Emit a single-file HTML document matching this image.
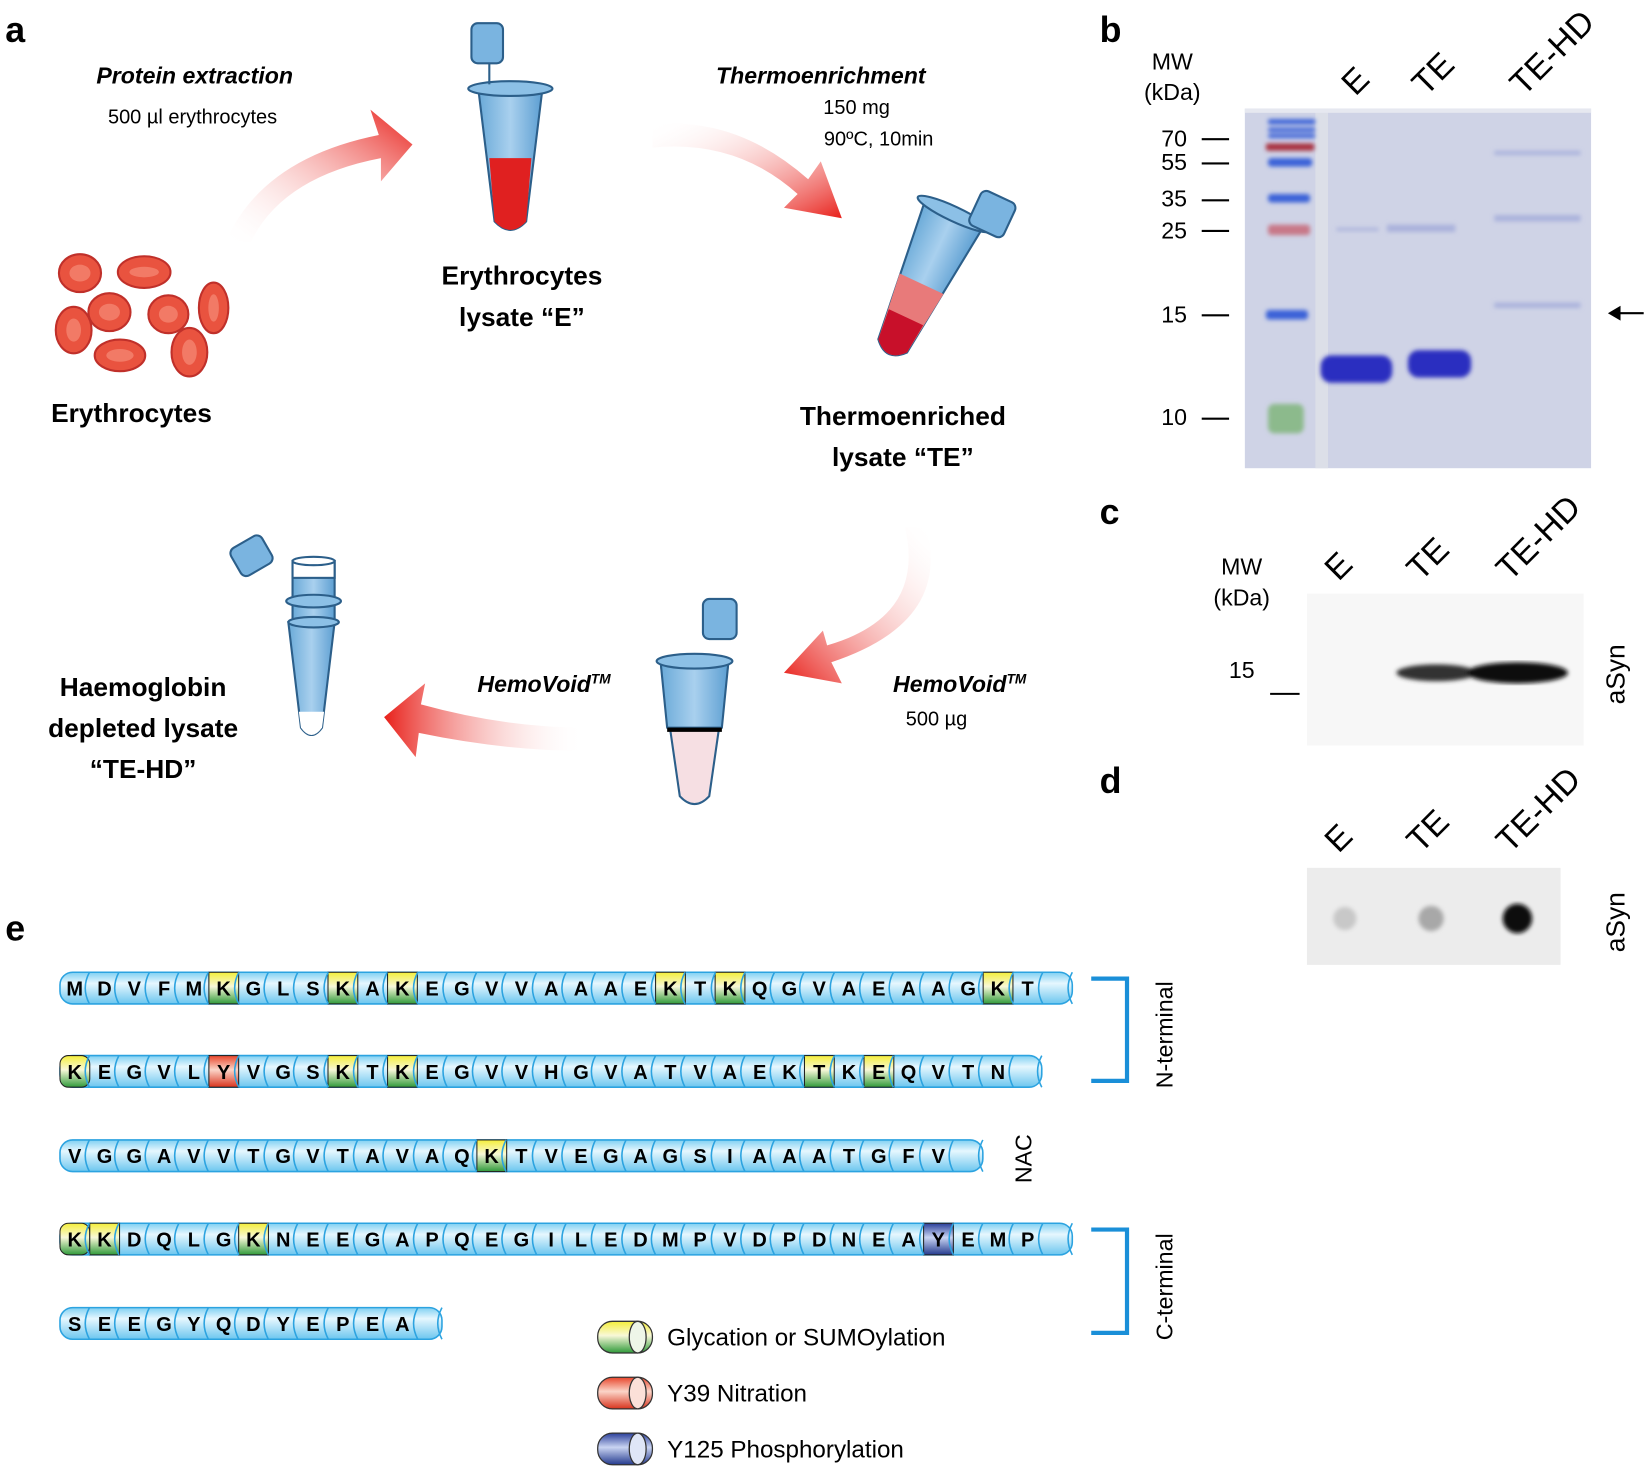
<!DOCTYPE html>
<html><head><meta charset="utf-8"><style>
html,body{margin:0;padding:0;background:#fff}
svg{display:block}
text{font-family:"Liberation Sans",sans-serif}
</style></head><body>
<svg width="1650" height="1470" viewBox="0 0 1568 1394" preserveAspectRatio="none" xmlns="http://www.w3.org/2000/svg">
<defs>
<linearGradient id="tube" x1="0" y1="0" x2="0" y2="1"><stop offset="0" stop-color="#7fd0f2"/><stop offset="0.35" stop-color="#e6f7fe"/><stop offset="1" stop-color="#6cc6ef"/></linearGradient>
<linearGradient id="yg" x1="0" y1="0" x2="0" y2="1"><stop offset="0" stop-color="#f4ee3a"/><stop offset="0.45" stop-color="#f8f8d8"/><stop offset="1" stop-color="#2f9a3a"/></linearGradient>
<linearGradient id="rd" x1="0" y1="0" x2="0" y2="1"><stop offset="0" stop-color="#e8452b"/><stop offset="0.45" stop-color="#fbd5c8"/><stop offset="1" stop-color="#d8341e"/></linearGradient>
<linearGradient id="bl" x1="0" y1="0" x2="0" y2="1"><stop offset="0" stop-color="#2a3f9a"/><stop offset="0.45" stop-color="#c9d4f2"/><stop offset="1" stop-color="#243a8e"/></linearGradient>
<linearGradient id="a1" x1="0" y1="1" x2="1" y2="0"><stop offset="0" stop-color="#fff" stop-opacity="0"/><stop offset="1" stop-color="#e8201a"/></linearGradient>
<linearGradient id="a2" x1="0" y1="0" x2="1" y2="1"><stop offset="0" stop-color="#fff" stop-opacity="0"/><stop offset="1" stop-color="#e8201a"/></linearGradient>
<linearGradient id="a3" x1="1" y1="0" x2="0" y2="1"><stop offset="0" stop-color="#fff" stop-opacity="0"/><stop offset="1" stop-color="#e8201a"/></linearGradient>
<linearGradient id="a4" x1="1" y1="0" x2="0" y2="0"><stop offset="0" stop-color="#fff" stop-opacity="0"/><stop offset="1" stop-color="#e8201a"/></linearGradient>
<linearGradient id="tb" x1="0" y1="0" x2="1" y2="0"><stop offset="0" stop-color="#6aaad8"/><stop offset="0.5" stop-color="#a9d0ee"/><stop offset="1" stop-color="#5d9fd2"/></linearGradient>
<filter id="bl2"><feGaussianBlur stdDeviation="2"/></filter>
</defs>

<g font-weight="bold" font-size="34">
<text x="5" y="40">a</text><text x="1045" y="40">b</text><text x="1045" y="497">c</text><text x="1045" y="752">d</text><text x="5" y="892">e</text>
</g>

<path d="M215 228 Q250 150 360 128 L352 104 L392 137 L362 172 L362 150 Q268 168 238 230 Z" fill="url(#a1)"/>
<path d="M620 118 Q700 110 768 170 L780 153 L800 207 L745 197 L758 184 Q700 132 620 140 Z" fill="url(#a2)"/>
<path d="M880 500 Q905 590 790 628 L800 648 L745 638 L782 598 L786 612 Q880 585 860 500 Z" fill="url(#a3)"/>
<path d="M555 690 Q480 690 400 668 L404 648 L365 680 L395 718 L398 695 Q480 712 555 712 Z" fill="url(#a4)"/>

<g fill="#e9533f" stroke="#c0302a" stroke-width="2">
<ellipse cx="76" cy="259" rx="20" ry="18"/><ellipse cx="137" cy="258" rx="25" ry="15"/><ellipse cx="104" cy="296" rx="20" ry="18"/><ellipse cx="160" cy="298" rx="19" ry="18"/><ellipse cx="203" cy="292" rx="14" ry="24"/><ellipse cx="70" cy="313" rx="17" ry="22"/><ellipse cx="114" cy="337" rx="24" ry="15"/><ellipse cx="180" cy="334" rx="17" ry="23"/>
</g>
<g fill="#f27a66"><ellipse cx="76" cy="259" rx="10" ry="8"/><ellipse cx="137" cy="258" rx="14" ry="5"/><ellipse cx="104" cy="296" rx="10" ry="8"/><ellipse cx="160" cy="298" rx="9" ry="8"/><ellipse cx="203" cy="292" rx="5" ry="13"/><ellipse cx="70" cy="313" rx="7" ry="11"/><ellipse cx="114" cy="337" rx="13" ry="6"/><ellipse cx="180" cy="334" rx="7" ry="12"/></g>

<g stroke="#2c5f8a" stroke-width="2">
<path d="M455 88 L515 88 L500 210 Q485 226 470 210 Z" fill="url(#tb)"/>
<path d="M465 150 L505 150 L500 210 Q485 226 470 210 Z" fill="#e02020" stroke="none"/>
<ellipse cx="485" cy="84" rx="40" ry="7" fill="#8cc0e6"/>
<rect x="448" y="22" width="30" height="38" rx="6" fill="#7ab4e0"/>
<path d="M465 60 L465 80" fill="none"/>
</g>
<g transform="translate(880 260) rotate(25)" stroke="#2c5f8a" stroke-width="2">
<path d="M-30 -60 L30 -60 L15 75 Q0 92 -15 75 Z" fill="url(#tb)"/>
<path d="M-23 10 L23 10 L15 75 Q0 92 -15 75 Z" fill="#e87a7a" stroke="none"/>
<path d="M-18 45 L18 45 L15 75 Q0 92 -15 75 Z" fill="#c8102a" stroke="none"/>
<ellipse cx="0" cy="-63" rx="38" ry="7" fill="#8cc0e6"/>
</g>
<rect x="925" y="185" width="36" height="36" rx="6" fill="#7ab4e0" stroke="#2c5f8a" stroke-width="2" transform="rotate(25 943 203)"/>
<g stroke="#2c5f8a" stroke-width="2">
<path d="M628 630 L692 630 L674 755 Q660 770 646 755 Z" fill="#f6dfe3"/>
<path d="M628 630 L692 630 L686 690 L634 690 Z" fill="url(#tb)"/>
<line x1="634" y1="692" x2="686" y2="692" stroke="#000" stroke-width="4"/>
<ellipse cx="660" cy="627" rx="36" ry="7" fill="#8cc0e6"/>
<rect x="668" y="568" width="32" height="38" rx="6" fill="#7ab4e0"/>
</g>
<g stroke="#2c5f8a" stroke-width="2">
<path d="M274 590 L318 590 L306 690 Q296 704 286 690 Z" fill="url(#tb)"/>
<path d="M284 675 L308 675 L306 690 Q296 704 286 690 Z" fill="#fff" stroke="none"/>
<rect x="278" y="532" width="40" height="56" fill="url(#tb)"/>
<rect x="278" y="532" width="40" height="16" fill="#fff"/>
<ellipse cx="298" cy="532" rx="20" ry="4" fill="#fff"/>
<ellipse cx="298" cy="570" rx="26" ry="6" fill="#8cc0e6"/>
<ellipse cx="298" cy="590" rx="24" ry="5" fill="#8cc0e6"/>
<rect x="222" y="512" width="34" height="30" rx="6" fill="#7ab4e0" transform="rotate(-30 239 527)"/>
</g>

<g font-weight="bold" font-style="italic" font-size="22" text-anchor="middle">
<text x="185" y="79">Protein extraction</text><text x="780" y="79">Thermoenrichment</text>
<text x="517" y="656">HemoVoid<tspan font-size="13" dy="-8">TM</tspan></text>
<text x="912" y="656">HemoVoid<tspan font-size="13" dy="-8">TM</tspan></text>
</g>
<g font-size="19" text-anchor="middle">
<text x="183" y="117">500 µl erythrocytes</text><text x="814" y="108">150 mg</text><text x="835" y="138">90ºC, 10min</text><text x="890" y="688">500 µg</text>
</g>
<g font-weight="bold" font-size="25" text-anchor="middle">
<text x="496" y="270">Erythrocytes</text><text x="496" y="309">lysate “E”</text>
<text x="125" y="400">Erythrocytes</text>
<text x="858" y="403">Thermoenriched</text><text x="858" y="442">lysate “TE”</text>
<text x="136" y="660">Haemoglobin</text><text x="136" y="699">depleted lysate</text><text x="136" y="738">“TE-HD”</text>
</g>

<!-- gel -->
<rect x="1183" y="103" width="329" height="341" fill="#cfd3e6"/>
<rect x="1250" y="103" width="12" height="341" fill="#dcdfe8"/>
<rect x="1183" y="103" width="329" height="4" fill="#e6e8f0"/>
<g filter="url(#bl2)">
<g fill="#3a62d8">
<rect x="1205" y="113" width="45" height="5" rx="2"/><rect x="1205" y="121" width="45" height="4" rx="2"/><rect x="1205" y="127" width="45" height="4" rx="2"/>
<rect x="1203" y="136" width="46" height="7" rx="2" fill="#a83040"/>
<rect x="1205" y="150" width="42" height="8" rx="3"/><rect x="1205" y="184" width="40" height="8" rx="3"/>
<rect x="1205" y="213" width="40" height="10" rx="3" fill="#c87888"/>
<rect x="1203" y="294" width="40" height="9" rx="3"/>
<rect x="1205" y="383" width="34" height="28" rx="6" fill="#8cba8c"/>
</g>
<rect x="1255" y="337" width="68" height="26" rx="10" fill="#2a2fc0"/>
<rect x="1338" y="332" width="60" height="26" rx="10" fill="#2a2fc0"/>
<g fill="#aab2dc"><rect x="1318" y="213" width="65" height="7"/><rect x="1420" y="204" width="82" height="6"/><rect x="1420" y="287" width="82" height="5"/><rect x="1420" y="143" width="82" height="4"/><rect x="1270" y="216" width="40" height="3"/></g>
</g>
<g font-size="22" text-anchor="end">
<text x="1128" y="139">70</text><text x="1128" y="161">55</text><text x="1128" y="196">35</text><text x="1128" y="226">25</text><text x="1128" y="306">15</text><text x="1128" y="403">10</text>
</g>
<g stroke="#000" stroke-width="2"><line x1="1142" y1="132" x2="1168" y2="132"/><line x1="1142" y1="155" x2="1168" y2="155"/><line x1="1142" y1="190" x2="1168" y2="190"/><line x1="1142" y1="219" x2="1168" y2="219"/><line x1="1142" y1="299" x2="1168" y2="299"/><line x1="1142" y1="397" x2="1168" y2="397"/>
<line x1="1536" y1="297" x2="1562" y2="297"/></g>
<path d="M1528 297 L1540 290 L1540 304 Z"/>
<g font-size="22" text-anchor="middle"><text x="1114" y="66">MW</text><text x="1114" y="95">(kDa)</text>
<text x="1180" y="545">MW</text><text x="1180" y="574">(kDa)</text><text x="1180" y="643">15</text></g>
<line x1="1207" y1="658" x2="1235" y2="658" stroke="#000" stroke-width="2"/>
<g font-size="32">
<text transform="translate(1288 92) rotate(-45)">E</text><text transform="translate(1355 92) rotate(-45)">TE</text><text transform="translate(1448 92) rotate(-45)">TE-HD</text>
<text transform="translate(1272 552) rotate(-45)">E</text><text transform="translate(1350 552) rotate(-45)">TE</text><text transform="translate(1435 552) rotate(-45)">TE-HD</text>
<text transform="translate(1272 810) rotate(-45)">E</text><text transform="translate(1350 810) rotate(-45)">TE</text><text transform="translate(1435 810) rotate(-45)">TE-HD</text>
</g>
<rect x="1242" y="563" width="263" height="144" fill="#f7f7f7"/>
<g filter="url(#bl2)">
<ellipse cx="1365" cy="638" rx="38" ry="8" fill="#333"/>
<ellipse cx="1442" cy="638" rx="48" ry="10" fill="#0a0a0a"/>
</g>
<rect x="1242" y="823" width="241" height="92" fill="#ececec"/>
<g filter="url(#bl2)"><circle cx="1278" cy="871" r="11" fill="#c8c8c8"/><circle cx="1360" cy="871" r="12" fill="#a8a8a8"/><circle cx="1442" cy="871" r="14" fill="#080808"/></g>
<g font-size="25"><text transform="translate(1544 668) rotate(-90)">aSyn</text><text transform="translate(1544 903) rotate(-90)">aSyn</text>
<text transform="translate(1114 1032) rotate(-90)" font-size="22">N-terminal</text>
<text transform="translate(1114 1271) rotate(-90)" font-size="22">C-terminal</text>
<text transform="translate(980 1122) rotate(-90)" font-size="22">NAC</text></g>
<g fill="none" stroke="#1a8fd8" stroke-width="4"><path d="M1037 928 H1071 V1025 H1037"/><path d="M1037 1166 H1071 V1264 H1037"/></g>

<g stroke="#2ca3e0" stroke-width="1.5">
<rect x="57" y="922" width="962" height="30" rx="12" fill="url(#tube)"/>
<rect x="57" y="1001" width="933" height="30" rx="12" fill="url(#tube)"/>
<rect x="57" y="1081" width="877" height="30" rx="12" fill="url(#tube)"/>
<rect x="57" y="1160" width="962" height="30" rx="12" fill="url(#tube)"/>
<rect x="57" y="1240" width="363" height="30" rx="12" fill="url(#tube)"/>
</g>
<g stroke="#222" stroke-width="1">
<rect x="198.5" y="922" width="28.3" height="30" fill="url(#yg)"/><rect x="311.7" y="922" width="28.3" height="30" fill="url(#yg)"/><rect x="368.3" y="922" width="28.3" height="30" fill="url(#yg)"/><rect x="623" y="922" width="28.3" height="30" fill="url(#yg)"/><rect x="679.6" y="922" width="28.3" height="30" fill="url(#yg)"/><rect x="934.3" y="922" width="28.3" height="30" fill="url(#yg)"/>
<rect x="57" y="1001" width="28.3" height="30" rx="8" fill="url(#yg)"/><rect x="198.5" y="1001" width="28.3" height="30" fill="url(#rd)"/><rect x="311.7" y="1001" width="28.3" height="30" fill="url(#yg)"/><rect x="368.3" y="1001" width="28.3" height="30" fill="url(#yg)"/><rect x="764.5" y="1001" width="28.3" height="30" fill="url(#yg)"/><rect x="821.1" y="1001" width="28.3" height="30" fill="url(#yg)"/>
<rect x="453.2" y="1081" width="28.3" height="30" fill="url(#yg)"/>
<rect x="57" y="1160" width="28.3" height="30" rx="8" fill="url(#yg)"/><rect x="85.3" y="1160" width="28.3" height="30" fill="url(#yg)"/><rect x="226.8" y="1160" width="28.3" height="30" fill="url(#yg)"/><rect x="877.7" y="1160" width="28.3" height="30" fill="url(#bl)"/>
</g>
<g fill="none" stroke="#2ca3e0" stroke-width="1.5">
<path d="M85 922q-8 15 0 30M113 922q-8 15 0 30M142 922q-8 15 0 30M170 922q-8 15 0 30M198 922q-8 15 0 30M227 922q-8 15 0 30M255 922q-8 15 0 30M283 922q-8 15 0 30M312 922q-8 15 0 30M340 922q-8 15 0 30M368 922q-8 15 0 30M397 922q-8 15 0 30M425 922q-8 15 0 30M453 922q-8 15 0 30M481 922q-8 15 0 30M510 922q-8 15 0 30M538 922q-8 15 0 30M566 922q-8 15 0 30M595 922q-8 15 0 30M623 922q-8 15 0 30M651 922q-8 15 0 30M680 922q-8 15 0 30M708 922q-8 15 0 30M736 922q-8 15 0 30M764 922q-8 15 0 30M793 922q-8 15 0 30M821 922q-8 15 0 30M849 922q-8 15 0 30M878 922q-8 15 0 30M906 922q-8 15 0 30M934 922q-8 15 0 30M963 922q-8 15 0 30M991 922q-8 15 0 30"/>
<path d="M85 1001q-8 15 0 30M113 1001q-8 15 0 30M142 1001q-8 15 0 30M170 1001q-8 15 0 30M198 1001q-8 15 0 30M227 1001q-8 15 0 30M255 1001q-8 15 0 30M283 1001q-8 15 0 30M312 1001q-8 15 0 30M340 1001q-8 15 0 30M368 1001q-8 15 0 30M397 1001q-8 15 0 30M425 1001q-8 15 0 30M453 1001q-8 15 0 30M481 1001q-8 15 0 30M510 1001q-8 15 0 30M538 1001q-8 15 0 30M566 1001q-8 15 0 30M595 1001q-8 15 0 30M623 1001q-8 15 0 30M651 1001q-8 15 0 30M680 1001q-8 15 0 30M708 1001q-8 15 0 30M736 1001q-8 15 0 30M764 1001q-8 15 0 30M793 1001q-8 15 0 30M821 1001q-8 15 0 30M849 1001q-8 15 0 30M878 1001q-8 15 0 30M906 1001q-8 15 0 30M934 1001q-8 15 0 30M963 1001q-8 15 0 30"/>
<path d="M85 1081q-8 15 0 30M113 1081q-8 15 0 30M142 1081q-8 15 0 30M170 1081q-8 15 0 30M198 1081q-8 15 0 30M227 1081q-8 15 0 30M255 1081q-8 15 0 30M283 1081q-8 15 0 30M312 1081q-8 15 0 30M340 1081q-8 15 0 30M368 1081q-8 15 0 30M397 1081q-8 15 0 30M425 1081q-8 15 0 30M453 1081q-8 15 0 30M481 1081q-8 15 0 30M510 1081q-8 15 0 30M538 1081q-8 15 0 30M566 1081q-8 15 0 30M595 1081q-8 15 0 30M623 1081q-8 15 0 30M651 1081q-8 15 0 30M680 1081q-8 15 0 30M708 1081q-8 15 0 30M736 1081q-8 15 0 30M764 1081q-8 15 0 30M793 1081q-8 15 0 30M821 1081q-8 15 0 30M849 1081q-8 15 0 30M878 1081q-8 15 0 30M906 1081q-8 15 0 30"/>
<path d="M85 1160q-8 15 0 30M113 1160q-8 15 0 30M142 1160q-8 15 0 30M170 1160q-8 15 0 30M198 1160q-8 15 0 30M227 1160q-8 15 0 30M255 1160q-8 15 0 30M283 1160q-8 15 0 30M312 1160q-8 15 0 30M340 1160q-8 15 0 30M368 1160q-8 15 0 30M397 1160q-8 15 0 30M425 1160q-8 15 0 30M453 1160q-8 15 0 30M481 1160q-8 15 0 30M510 1160q-8 15 0 30M538 1160q-8 15 0 30M566 1160q-8 15 0 30M595 1160q-8 15 0 30M623 1160q-8 15 0 30M651 1160q-8 15 0 30M680 1160q-8 15 0 30M708 1160q-8 15 0 30M736 1160q-8 15 0 30M764 1160q-8 15 0 30M793 1160q-8 15 0 30M821 1160q-8 15 0 30M849 1160q-8 15 0 30M878 1160q-8 15 0 30M906 1160q-8 15 0 30M934 1160q-8 15 0 30M963 1160q-8 15 0 30M991 1160q-8 15 0 30"/>
<path d="M85 1240q-8 15 0 30M113 1240q-8 15 0 30M142 1240q-8 15 0 30M170 1240q-8 15 0 30M198 1240q-8 15 0 30M227 1240q-8 15 0 30M255 1240q-8 15 0 30M283 1240q-8 15 0 30M312 1240q-8 15 0 30M340 1240q-8 15 0 30M368 1240q-8 15 0 30M397 1240q-8 15 0 30"/>
<path d="M1019 922q-8 15 0 30M990 1001q-8 15 0 30M934 1081q-8 15 0 30M1019 1160q-8 15 0 30M420 1240q-8 15 0 30"/>
</g>
<g font-size="19" font-weight="bold" text-anchor="middle">
<text y="944" x="71 99.3 127.6 155.9 184.2 212.5 240.8 269.1 297.4 325.7 354 382.3 410.6 438.9 467.2 495.5 523.8 552.1 580.4 608.7 637 665.3 693.6 721.9 750.2 778.5 806.8 835.1 863.4 891.7 920 948.3 976.6">MDVFMKGLSKAKEGVVAAAEKTKQGVAEAAGKT</text>
<text y="1023" x="71 99.3 127.6 155.9 184.2 212.5 240.8 269.1 297.4 325.7 354 382.3 410.6 438.9 467.2 495.5 523.8 552.1 580.4 608.7 637 665.3 693.6 721.9 750.2 778.5 806.8 835.1 863.4 891.7 920 948.3">KEGVLYVGSKTKEGVVHGVATVAEKTKEQVTN</text>
<text y="1103" x="71 99.3 127.6 155.9 184.2 212.5 240.8 269.1 297.4 325.7 354 382.3 410.6 438.9 467.2 495.5 523.8 552.1 580.4 608.7 637 665.3 693.6 721.9 750.2 778.5 806.8 835.1 863.4 891.7">VGGAVVTGVTAVAQKTVEGAGSIAAATGFV</text>
<text y="1182" x="71 99.3 127.6 155.9 184.2 212.5 240.8 269.1 297.4 325.7 354 382.3 410.6 438.9 467.2 495.5 523.8 552.1 580.4 608.7 637 665.3 693.6 721.9 750.2 778.5 806.8 835.1 863.4 891.7 920 948.3 976.6">KKDQLGKNEEGAPQEGILEDMPVDPDNEAYEMP</text>
<text y="1262" x="71 99.3 127.6 155.9 184.2 212.5 240.8 269.1 297.4 325.7 354 382.3">SEEGYQDYEPEA</text>
</g>

<g stroke="#333" stroke-width="1.2">
<rect x="568" y="1253" width="52" height="30" rx="14" fill="url(#yg)"/><ellipse cx="606" cy="1268" rx="8" ry="15" fill="#eef6e8"/>
<rect x="568" y="1306" width="52" height="30" rx="14" fill="url(#rd)"/><ellipse cx="606" cy="1321" rx="8" ry="15" fill="#fbe0d8"/>
<rect x="568" y="1359" width="52" height="30" rx="14" fill="url(#bl)"/><ellipse cx="606" cy="1374" rx="8" ry="15" fill="#dfe6f7"/>
</g>
<g font-size="23"><text x="634" y="1276">Glycation or SUMOylation</text><text x="634" y="1329">Y39 Nitration</text><text x="634" y="1382">Y125 Phosphorylation</text></g>
</svg>
</body></html>
